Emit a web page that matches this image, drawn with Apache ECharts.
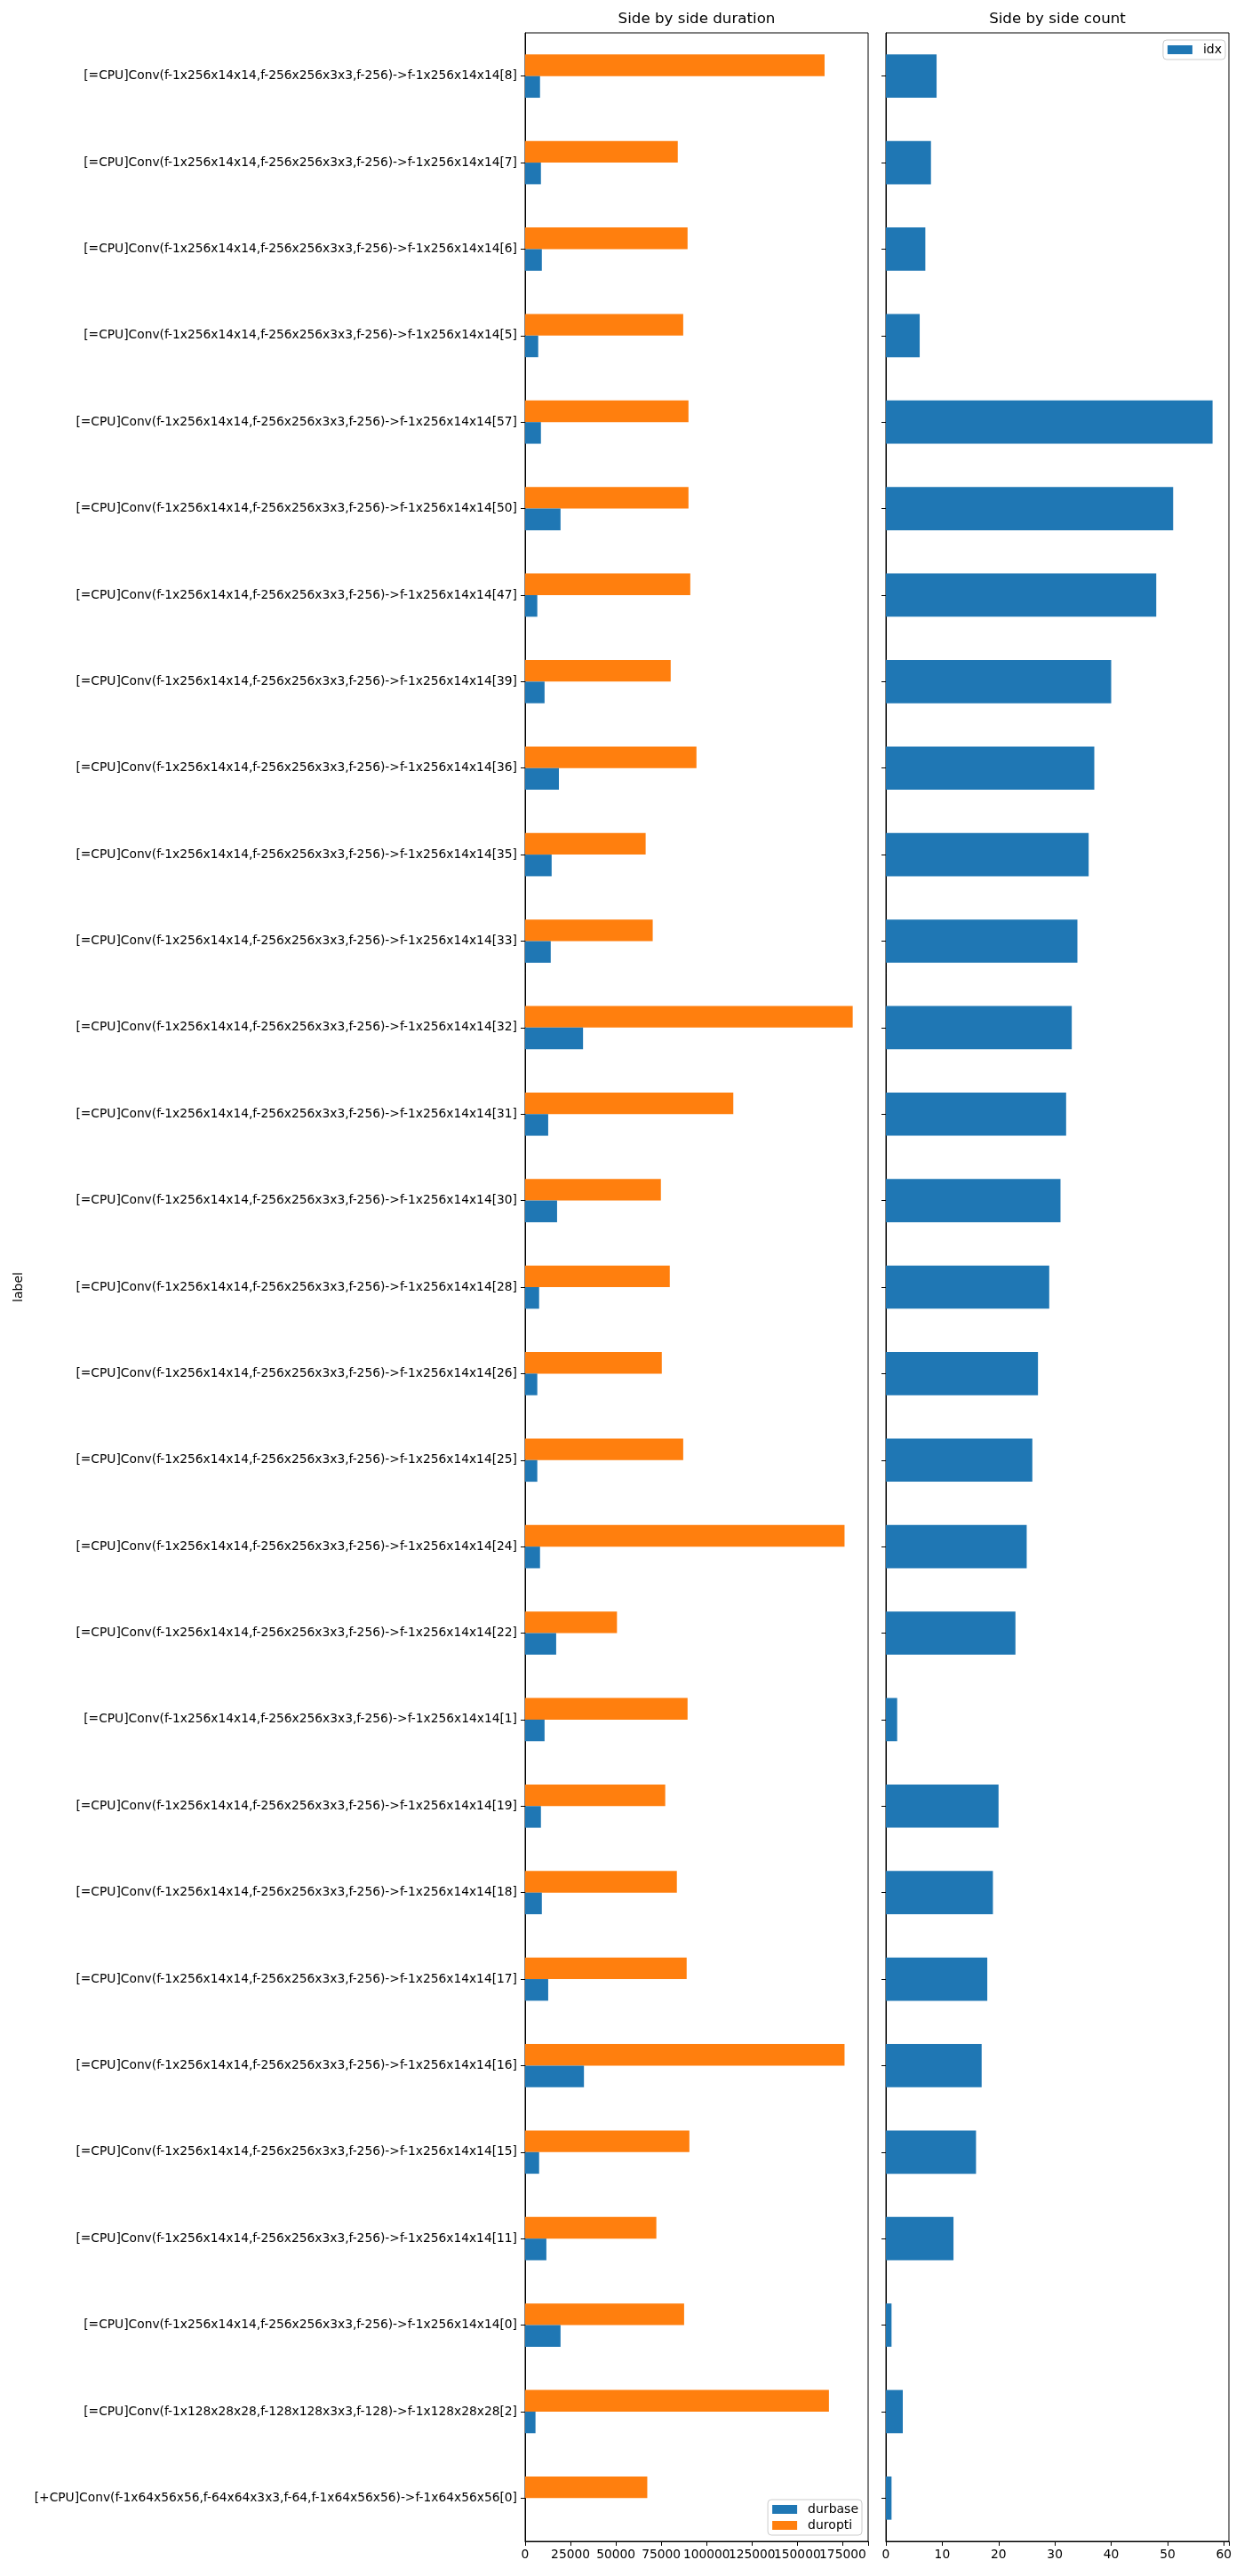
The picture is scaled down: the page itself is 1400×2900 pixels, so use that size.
<!DOCTYPE html>
<html>
<head>
<meta charset="utf-8">
<script src="https://cdn.jsdelivr.net/npm/echarts@6/dist/echarts.min.js"></script>
<style>
html,body{margin:0;padding:0;background:#fff;}
#chart{width:1400px;height:2900px;}
</style>
</head>
<body>
<div id="chart"></div>
<script>
const categories = [
  "[=CPU]Conv(f-1x256x14x14,f-256x256x3x3,f-256)->f-1x256x14x14[8]",
  "[=CPU]Conv(f-1x256x14x14,f-256x256x3x3,f-256)->f-1x256x14x14[7]",
  "[=CPU]Conv(f-1x256x14x14,f-256x256x3x3,f-256)->f-1x256x14x14[6]",
  "[=CPU]Conv(f-1x256x14x14,f-256x256x3x3,f-256)->f-1x256x14x14[5]",
  "[=CPU]Conv(f-1x256x14x14,f-256x256x3x3,f-256)->f-1x256x14x14[57]",
  "[=CPU]Conv(f-1x256x14x14,f-256x256x3x3,f-256)->f-1x256x14x14[50]",
  "[=CPU]Conv(f-1x256x14x14,f-256x256x3x3,f-256)->f-1x256x14x14[47]",
  "[=CPU]Conv(f-1x256x14x14,f-256x256x3x3,f-256)->f-1x256x14x14[39]",
  "[=CPU]Conv(f-1x256x14x14,f-256x256x3x3,f-256)->f-1x256x14x14[36]",
  "[=CPU]Conv(f-1x256x14x14,f-256x256x3x3,f-256)->f-1x256x14x14[35]",
  "[=CPU]Conv(f-1x256x14x14,f-256x256x3x3,f-256)->f-1x256x14x14[33]",
  "[=CPU]Conv(f-1x256x14x14,f-256x256x3x3,f-256)->f-1x256x14x14[32]",
  "[=CPU]Conv(f-1x256x14x14,f-256x256x3x3,f-256)->f-1x256x14x14[31]",
  "[=CPU]Conv(f-1x256x14x14,f-256x256x3x3,f-256)->f-1x256x14x14[30]",
  "[=CPU]Conv(f-1x256x14x14,f-256x256x3x3,f-256)->f-1x256x14x14[28]",
  "[=CPU]Conv(f-1x256x14x14,f-256x256x3x3,f-256)->f-1x256x14x14[26]",
  "[=CPU]Conv(f-1x256x14x14,f-256x256x3x3,f-256)->f-1x256x14x14[25]",
  "[=CPU]Conv(f-1x256x14x14,f-256x256x3x3,f-256)->f-1x256x14x14[24]",
  "[=CPU]Conv(f-1x256x14x14,f-256x256x3x3,f-256)->f-1x256x14x14[22]",
  "[=CPU]Conv(f-1x256x14x14,f-256x256x3x3,f-256)->f-1x256x14x14[1]",
  "[=CPU]Conv(f-1x256x14x14,f-256x256x3x3,f-256)->f-1x256x14x14[19]",
  "[=CPU]Conv(f-1x256x14x14,f-256x256x3x3,f-256)->f-1x256x14x14[18]",
  "[=CPU]Conv(f-1x256x14x14,f-256x256x3x3,f-256)->f-1x256x14x14[17]",
  "[=CPU]Conv(f-1x256x14x14,f-256x256x3x3,f-256)->f-1x256x14x14[16]",
  "[=CPU]Conv(f-1x256x14x14,f-256x256x3x3,f-256)->f-1x256x14x14[15]",
  "[=CPU]Conv(f-1x256x14x14,f-256x256x3x3,f-256)->f-1x256x14x14[11]",
  "[=CPU]Conv(f-1x256x14x14,f-256x256x3x3,f-256)->f-1x256x14x14[0]",
  "[=CPU]Conv(f-1x128x28x28,f-128x128x3x3,f-128)->f-1x128x28x28[2]",
  "[+CPU]Conv(f-1x64x56x56,f-64x64x3x3,f-64,f-1x64x56x56)->f-1x64x56x56[0]"
];

const durbase = [8200, 8700, 9200, 7200, 8700, 19500, 6700, 10700, 18600, 14600,
  14100, 31900, 12700, 17600, 7700, 6700, 6700, 8200, 17100, 10700,
  8700, 9200, 12700, 32400, 7700, 11700, 19500, 5700, 0];

const duropti = [165000, 84100, 89500, 87100, 90000, 90000, 91000, 80200, 94400, 66400,
  70300, 180500, 114700, 74800, 79700, 75300, 87100, 176000, 50600, 89500,
  77200, 83600, 89000, 176000, 90500, 72300, 87600, 167400, 67300];

const idx = [9, 8, 7, 6, 58, 51, 48, 40, 37, 36, 34, 33, 32, 31, 29, 27, 26, 25, 23, 2,
  20, 19, 18, 17, 16, 12, 1, 3, 1];

const durTickStep = 25000;
const countTickStep = 10;
const durMax = 189000;
const countMax = 60.9;

const FONT = 'DejaVu Sans';
const BLUE = '#1f77b4';
const ORANGE = '#ff7f0e';

const chart = echarts.init(document.getElementById('chart'), null, {renderer: 'canvas'});

const grids = [
  {left: 591, top: 37, width: 386, height: 2824, show: true, borderColor: '#000', borderWidth: 1, backgroundColor: 'transparent', containLabel: false, outerBoundsMode: 'none'},
  {left: 997, top: 37, width: 386, height: 2824, show: true, borderColor: '#000', borderWidth: 1, backgroundColor: 'transparent', containLabel: false, outerBoundsMode: 'none'}
];

function valueAxis(gridIndex, max, step) {
  return {
    type: 'value', gridIndex: gridIndex, min: 0, max: max, interval: step,
    splitLine: {show: false},
    axisLine: {show: true, lineStyle: {color: '#000', width: 1}},
    axisTick: {show: true, inside: false, length: 5, lineStyle: {color: '#000', width: 1}},
    axisLabel: {
      show: true, margin: 8, color: '#000', fontFamily: FONT, fontSize: 13.8,
      hideOverlap: false,
      formatter: function (v) { return (Math.abs(v / step - Math.round(v / step)) < 1e-9) ? String(v) : ''; }
    }
  };
}

function catAxis(gridIndex, showLabel) {
  return {
    type: 'category', gridIndex: gridIndex, data: categories, inverse: true,
    axisLine: {show: true, lineStyle: {color: '#000', width: 1}},
    axisTick: {show: true, alignWithLabel: true, inside: false, length: 5, lineStyle: {color: '#000', width: 1}},
    axisLabel: {show: showLabel, interval: 0, margin: 9, color: '#000', fontFamily: FONT, fontSize: 13.8},
    splitLine: {show: false}
  };
}

const option = {
  animation: false,
  backgroundColor: '#fff',
  textStyle: {fontFamily: FONT},
  title: [
    {text: 'Side by side duration', left: 784, top: 13, textAlign: 'center', padding: 0,
      textStyle: {fontFamily: FONT, fontSize: 16.7, fontWeight: 'normal', color: '#000'}},
    {text: 'Side by side count', left: 1190, top: 13, textAlign: 'center', padding: 0,
      textStyle: {fontFamily: FONT, fontSize: 16.7, fontWeight: 'normal', color: '#000'}}
  ],
  grid: grids,
  xAxis: [valueAxis(0, durMax, durTickStep), valueAxis(1, countMax, countTickStep)],
  yAxis: [catAxis(0, true), catAxis(1, false)],
  legend: [
    {
      data: ['durbase', 'duropti'], orient: 'vertical', right: 430, bottom: 46,
      icon: 'rect', itemWidth: 28, itemHeight: 10, itemGap: 4,
      padding: [4, 4, 4, 5],
      borderColor: '#cccccc', borderWidth: 1, borderRadius: 4,
      backgroundColor: 'rgba(255,255,255,0.8)',
      textStyle: {fontFamily: FONT, fontSize: 14, color: '#000', padding: [0, 0, 0, 7]},
      selectedMode: false
    },
    {
      data: ['idx'], orient: 'vertical', right: 21, top: 45,
      icon: 'rect', itemWidth: 28, itemHeight: 10, itemGap: 4,
      padding: [4, 4, 4, 5],
      borderColor: '#cccccc', borderWidth: 1, borderRadius: 4,
      backgroundColor: 'rgba(255,255,255,0.8)',
      textStyle: {fontFamily: FONT, fontSize: 14, color: '#000', padding: [0, 0, 0, 7]},
      selectedMode: false
    }
  ],
  graphic: [
    {type: 'text', x: 21, y: 1449, rotation: Math.PI / 2,
      style: {text: 'label', fontFamily: FONT, fontSize: 14, fill: '#000', align: 'center', verticalAlign: 'middle'}}
  ],
  series: [
    {name: 'duropti', type: 'bar', xAxisIndex: 0, yAxisIndex: 0, data: duropti,
      barWidth: '25%', barGap: '0%', itemStyle: {color: ORANGE}},
    {name: 'durbase', type: 'bar', xAxisIndex: 0, yAxisIndex: 0, data: durbase,
      barWidth: '25%', barGap: '0%', itemStyle: {color: BLUE}},
    {name: 'idx', type: 'bar', xAxisIndex: 1, yAxisIndex: 1, data: idx,
      barWidth: '50%', itemStyle: {color: BLUE}}
  ]
};

chart.setOption(option);
</script>
</body>
</html>
